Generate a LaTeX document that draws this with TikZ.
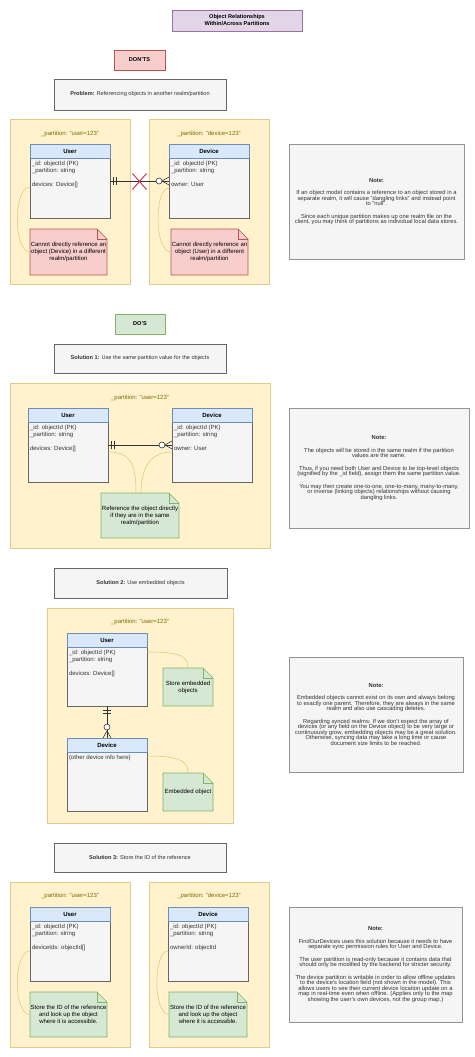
\documentclass[tikz,border=0pt]{standalone}
\usepackage{fontspec}
\setmainfont{Liberation Sans}
\usetikzlibrary{calc}
\definecolor{purF}{HTML}{E1D5E7}\definecolor{purD}{HTML}{9673A6}
\definecolor{redF}{HTML}{F8CECC}\definecolor{redD}{HTML}{B85450}
\definecolor{grnF}{HTML}{D5E8D4}\definecolor{grnD}{HTML}{82B366}
\definecolor{gryF}{HTML}{F5F5F5}\definecolor{gryD}{HTML}{666666}
\definecolor{ylwF}{HTML}{FFF2CC}\definecolor{ylwD}{HTML}{D6B656}
\definecolor{bluF}{HTML}{DAE8FC}\definecolor{bluD}{HTML}{6C8EBF}
\definecolor{txt}{HTML}{333333}
\definecolor{lbl}{HTML}{7A6A00}
\definecolor{xred}{HTML}{C8304F}
\newcommand\fside{\fontsize{5.8}{5.5}\selectfont}
\newcommand\ftab{\fontsize{6}{7}\selectfont}
\newcommand\fbx{\fontsize{5.6}{7}\selectfont}
\newcommand\ertable[6]{%
  \node[tbody, minimum height=#4pt, anchor=north west] (#1) at (#2,#3) {};
  \node[thead, anchor=north west] (#1h) at (#2,#3) {#5};
  \node[ttext, anchor=north west] (#1t) at (#2+2,#3+17) {#6};
}
\newcommand\notebox[8]{%
  \draw[lw, fill=#6, draw=#7] (#2,#3) -- (#4-10,#3) -- (#4,#3+10) -- (#4,#5) -- (#2,#5) -- cycle;
  \draw[lw, draw=#7] (#4-10,#3) -- (#4-10,#3+10) -- (#4,#3+10);
  \node[notetext, minimum width={(#4-#2)*1pt}, minimum height={(#5-#3)*1pt}] (#1) at ({(#2+#4)/2},{(#3+#5)/2}) {#8};
}
\newcommand\erh[2]{%
  \draw[er] (#1) -- (#2);
  \draw[er] ($(#1)+(3,-4)$) -- ($(#1)+(3,4)$);
  \draw[er] ($(#1)+(6,-4)$) -- ($(#1)+(6,4)$);
  \draw[er] ($(#2)+(-7,0)$) -- ($(#2)+(0,-4)$);
  \draw[er] ($(#2)+(-7,0)$) -- ($(#2)+(0,4)$);
  \draw[er, fill=white] ($(#2)+(-10,0)$) circle (3pt);
}
\newcommand\erv[2]{%
  \draw[er] (#1) -- (#2);
  \draw[er] ($(#1)+(-4,4)$) -- ($(#1)+(4,4)$);
  \draw[er] ($(#1)+(-4,7)$) -- ($(#1)+(4,7)$);
  \draw[er] ($(#2)+(0,-7)$) -- ($(#2)+(-4,0)$);
  \draw[er] ($(#2)+(0,-7)$) -- ($(#2)+(4,0)$);
  \draw[er, fill=white] ($(#2)+(0,-11)$) circle (3pt);
}
\begin{document}
\begin{tikzpicture}[x=1pt,y=-1pt,
  every node/.style={inner sep=0pt, outer sep=0pt, text=txt},
  lw/.style={line width=0.6pt},
  titlebox/.style={lw, draw=purD, fill=purF, anchor=north west, align=center, font=\fbx\bfseries, text=black},
  redbox/.style={lw, draw=redD, fill=redF, anchor=north west, align=center, font=\fbx\bfseries, text=black},
  greenbox/.style={lw, draw=grnD, fill=grnF, anchor=north west, align=center, font=\fbx\bfseries, text=black},
  graybox/.style={lw, draw=gryD, fill=gryF, anchor=north west, align=center, font=\fbx},
  sidenote/.style={lw, draw=gryD!70, fill=gryF, anchor=north west, align=center, font=\fside},
  part/.style={lw, draw=ylwD!70, fill=ylwF, anchor=north west},
  plabel/.style={font=\ftab, text=lbl},
  tbody/.style={lw, draw=gryD, fill=gryF, minimum width=80pt},
  thead/.style={lw, draw=bluD, fill=bluF, minimum width=80pt, minimum height=14pt, font=\ftab\bfseries, text=black},
  ttext/.style={align=left, font=\ftab},
  notetext/.style={align=center, font=\ftab, text=black},
  er/.style={line width=0.6pt, draw=txt},
  curve/.style={line width=0.5pt, draw=ylwD!80},
  xline/.style={line width=0.9pt, draw=xred}
]
\useasboundingbox[fill=white] (0,0) rectangle (474,1057);

% ---------- header ----------
\node[titlebox, minimum width=130pt, minimum height=21pt] (title) at (172,10) {Object Relationships\\Within/Across Partitions};
\node[redbox, minimum width=51pt, minimum height=20pt] (dont) at (114,50) {DON'TS};
\node[graybox, minimum width=172pt, minimum height=31pt] (prob) at (54,79) {\textbf{Problem:} Referencing objects in another realm/partition};

% ---------- section 1 ----------
\node[part, minimum width=120pt, minimum height=165pt] (p1a) at (10,119) {};
\node[plabel] (p1al) at (70,134) {\_partition: "user=123"};
\node[part, minimum width=120pt, minimum height=165pt] (p1b) at (149,119) {};
\node[plabel] (p1bl) at (209,134) {\_partition: "device=123"};
\ertable{u1}{30}{144}{74}{User}{\_id: objectId (PK)\\\_partition: string\\[7pt]devices: Device[]}
\ertable{d1}{169}{144}{74}{Device}{\_id: objectId (PK)\\\_partition: string\\[7pt]owner: User}
\notebox{n1a}{30}{229}{107}{275}{redF}{redD}{Cannot directly reference an\\object (Device) in a different\\realm/partition}
\notebox{n1b}{171}{229}{248}{275}{redF}{redD}{Cannot directly reference an\\object (User) in a different\\realm/partition}
\draw[curve] ($(u1.north west)+(0,43)$) .. controls +(-17,0) and +(-17,0) .. (n1a.west);
\draw[curve] ($(d1.north west)+(0,44)$) .. controls +(-15,0) and +(-17,0) .. (n1b.west);
\erh{u1.east}{d1.west}
\coordinate (xm) at (139.5,181.5);
\draw[xline] ($(xm)+(-7,-8)$) -- ($(xm)+(7,8)$);
\draw[xline] ($(xm)+(-7,8)$) -- ($(xm)+(7,-8)$);
\node[sidenote, minimum width=175pt, minimum height=115pt] (note1) at (289,144) {\textbf{Note:}\\[7pt]If an object model contains a reference to an object stored in a\\separate realm, it will cause "dangling links" and instead point\\to "null".\\[7pt]Since each unique partition makes up one realm file on the\\client, you may think of partitions as individual local data stores.};

% ---------- section 2 ----------
\node[greenbox, minimum width=50pt, minimum height=20pt] (dos) at (115,314) {DO'S};
\node[graybox, minimum width=172pt, minimum height=29pt] (sol1) at (54,344) {\textbf{Solution 1:} Use the same partition value for the objects};
\node[part, minimum width=260pt, minimum height=165pt] (p2) at (10,383) {};
\node[plabel] (p2l) at (140,398) {\_partition: "user=123"};
\ertable{u2}{28}{408}{74}{User}{\_id: objectId (PK)\\\_partition: string\\[7pt]devices: Device[]}
\ertable{d2}{172}{408}{74}{Device}{\_id: objectId (PK)\\\_partition: string\\[7pt]owner: User}
\erh{u2.east}{d2.west}
\notebox{n2}{101}{493}{179}{538}{grnF}{grnD}{Reference the object directly\\if they are in the same\\realm/partition}
\draw[curve] ($(u2.east)+(0,7)$) .. controls +(25,0) and +(0,-25) .. ($(n2.north)+(-4,0)$);
\draw[curve] ($(n2.north)+(1,0)$) .. controls +(0,-25) and +(-22,0) .. ($(d2.west)+(0,7)$);
\node[sidenote, minimum width=180pt, minimum height=120pt] (note2) at (289,408) {\textbf{Note:}\\[7pt]The objects will be stored in the same realm if the partition\\values are the same.\\[7pt]Thus, if you need both User and Device to be top-level objects\\(signified by the \_id field), assign them the same partition value.\\[7pt]You may then create one-to-one, one-to-many, many-to-many,\\or inverse (linking objects) relationships without causing\\dangling links.};

% ---------- section 3 ----------
\node[graybox, minimum width=173pt, minimum height=30pt] (sol2) at (54,568) {\textbf{Solution 2:} Use embedded objects};
\node[part, minimum width=186pt, minimum height=215pt] (p3) at (47,608) {};
\node[plabel] (p3l) at (140,622) {\_partition: "user=123"};
\ertable{u3}{67}{633}{73}{User}{\_id: objectId (PK)\\\_partition: string\\[7pt]devices: Device[]}
\ertable{d3}{67}{738}{73}{Device}{(other device info here)}
\erv{u3.south}{d3.north}
\notebox{n3a}{163}{668}{213}{706}{grnF}{grnD}{Store embedded\\objects}
\notebox{n3b}{163}{773}{213}{811}{grnF}{grnD}{Embedded object}
\draw[curve] ($(u3.north east)+(0,19)$) .. controls +(33,0) and +(0,-12) .. (n3a.north);
\draw[curve] ($(d3.north east)+(0,18)$) .. controls +(33,0) and +(0,-12) .. (n3b.north);
\node[sidenote, minimum width=174pt, minimum height=115pt] (note3) at (289,657) {\textbf{Note:}\\[7pt]Embedded objects cannot exist on its own and always belong\\to exactly one parent. Therefore, they are always in the same\\realm and also use cascading deletes.\\[7pt]Regarding synced realms: If we don't expect the array of\\devices (or any field on the Device object) to be very large or\\continuously grow, embedding objects may be a great solution.\\Otherwise, syncing data may take a long time or cause\\document size limits to be reached.};

% ---------- section 4 ----------
\node[graybox, minimum width=172pt, minimum height=29pt] (sol3) at (54,843) {\textbf{Solution 3:} Store the ID of the reference};
\node[part, minimum width=120pt, minimum height=165pt] (p4a) at (10,882) {};
\node[plabel] (p4al) at (70,896) {\_partition: "user=123"};
\node[part, minimum width=120pt, minimum height=165pt] (p4b) at (149,882) {};
\node[plabel] (p4bl) at (209,896) {\_partition: "device=123"};
\ertable{u4}{30}{907}{74}{User}{\_id: objectId (PK)\\\_partition: string\\[7pt]deviceIds: objectId[]}
\ertable{d4}{168}{907}{74}{Device}{\_id: objectId (PK)\\\_partition: string\\[7pt]ownerId: objectId}
\notebox{n4a}{30}{992}{107}{1037}{grnF}{grnD}{Store the ID of the reference\\and look up the object\\where it is accessible.}
\notebox{n4b}{169}{992}{247}{1037}{grnF}{grnD}{Store the ID of the reference\\and look up the object\\where it is accessible.}
\draw[curve] ($(u4.north west)+(0,44)$) .. controls +(-17,0) and +(-17,0) .. (n4a.west);
\draw[curve] ($(d4.north west)+(0,44)$) .. controls +(-15,0) and +(-16,0) .. (n4b.west);
\node[sidenote, minimum width=173pt, minimum height=115pt] (note4) at (289,907) {\textbf{Note:}\\[7pt]FindOurDevices uses this solution because it needs to have\\separate sync permission rules for User and Device.\\[7pt]The user partition is read-only because it contains data that\\should only be modified by the backend for stricter security.\\[7pt]The device partition is writable in order to allow offline updates\\to the device's location field (not shown in the model). This\\allows users to see their current device location update on a\\map in real-time even when offline. (Applies only to the map\\showing the user's own devices, not the group map.)};
\end{tikzpicture}
\end{document}
